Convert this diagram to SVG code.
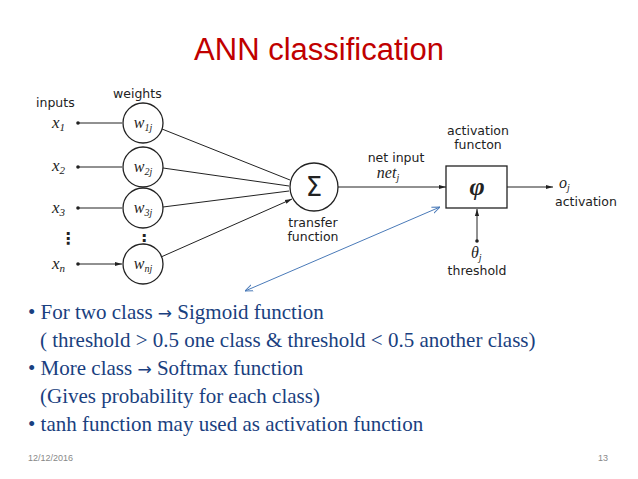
<svg xmlns="http://www.w3.org/2000/svg" width="638" height="479" viewBox="0 0 638 479">
<style>
.s{font-family:"DejaVu Sans",sans-serif;font-size:12.5px;fill:#222}
.m{font-family:"Liberation Serif",serif;font-style:italic;fill:#222}
.b{font-family:"Liberation Serif",serif;font-size:21px;fill:#1a3f80}
.n{fill:#fff;stroke:#222;stroke-width:1.3}
.l{stroke:#222;stroke-width:1;fill:none}
</style>
<defs>
<marker id="a" viewBox="0 0 10 10" refX="10" refY="5" markerWidth="7" markerHeight="7" orient="auto"><path d="M0,2 L10,5 L0,8z" fill="#222"/></marker>
<marker id="bl" viewBox="0 0 10 10" refX="10" refY="5" markerWidth="8" markerHeight="8" orient="auto-start-reverse"><path d="M0,1 L10,5 L0,9" fill="none" stroke="#4a7ab8" stroke-width="1.2"/></marker>
</defs>
<rect width="638" height="479" fill="#fff"/>
<text x="319" y="60" text-anchor="middle" font-family="Liberation Sans,sans-serif" font-size="31" fill="#c00000">ANN classification</text>
<g id="connectors">
<path class="l" marker-end="url(#a)" d="M78,123H122M78,167H122M78,208H122M78,264H122"/>
<circle cx="78" cy="123" r="1.8" fill="#222"/><circle cx="78" cy="167" r="1.8" fill="#222"/><circle cx="78" cy="208" r="1.8" fill="#222"/><circle cx="78" cy="264" r="1.8" fill="#222"/>
<path class="l" marker-end="url(#a)" d="M162,129L290,180M163,168L289,186M163,207L289,191M161,257L292,199"/>
<path class="l" marker-end="url(#a)" d="M337,187H446"/>
<path class="l" marker-end="url(#a)" d="M507,187H553"/>
<path class="l" marker-end="url(#a)" d="M477,241V209"/>
<circle cx="477" cy="241" r="1.8" fill="#222"/>
<path d="M245,291L440,207" stroke="#4a7ab8" stroke-width="1" marker-start="url(#bl)" marker-end="url(#bl)"/>
</g>
<g id="inputs">
<text class="s" x="36" y="107">inputs</text>
<text class="m" x="52" y="128" font-size="17">x<tspan font-size="11" dy="3">1</tspan></text>
<text class="m" x="52" y="171" font-size="17">x<tspan font-size="11" dy="3">2</tspan></text>
<text class="m" x="52" y="213" font-size="17">x<tspan font-size="11" dy="3">3</tspan></text>
<text class="m" x="52" y="269" font-size="17">x<tspan font-size="11" dy="3">n</tspan></text>
<text x="60" y="244" font-family="DejaVu Sans,sans-serif" font-size="16" font-weight="bold" fill="#222">⋮</text>
</g>
<g id="weights">
<text class="s" x="113" y="98">weights</text>
<circle class="n" cx="143" cy="123" r="20"/><text class="m" x="143" y="128" font-size="16" text-anchor="middle">w<tspan font-size="10" dy="3">1j</tspan></text>
<circle class="n" cx="143" cy="167" r="20"/><text class="m" x="143" y="172" font-size="16" text-anchor="middle">w<tspan font-size="10" dy="3">2j</tspan></text>
<circle class="n" cx="143" cy="208" r="20"/><text class="m" x="143" y="213" font-size="16" text-anchor="middle">w<tspan font-size="10" dy="3">3j</tspan></text>
<text x="136" y="246" font-family="DejaVu Sans,sans-serif" font-size="16" font-weight="bold" fill="#222">⋮</text>
<circle class="n" cx="143" cy="264" r="20"/><text class="m" x="143" y="269" font-size="16" text-anchor="middle">w<tspan font-size="10" dy="3">nj</tspan></text>
</g>
<g id="sum">
<circle class="n" cx="314" cy="187" r="24"/>
<text x="314" y="196" text-anchor="middle" font-family="DejaVu Sans,sans-serif" font-size="26" fill="#222">Σ</text>
<text class="s" x="313" y="227" text-anchor="middle">transfer</text>
<text class="s" x="313" y="241" text-anchor="middle">function</text>
</g>
<g id="netinput">
<text class="s" x="396" y="162" text-anchor="middle">net input</text>
<text class="m" x="388" y="178" font-size="16" text-anchor="middle">net<tspan font-size="10" dy="3">j</tspan></text>
</g>
<g id="activation">
<rect class="n" x="446" y="166" width="61" height="42"/>
<text class="m" x="477" y="195" font-size="26" font-weight="bold" text-anchor="middle">φ</text>
<text class="s" x="478" y="135" text-anchor="middle">activation</text>
<text class="s" x="478" y="149" text-anchor="middle">functon</text>
<text class="m" x="559" y="188" font-size="16">o<tspan font-size="10" dy="3">j</tspan></text>
<text class="s" x="555" y="206">activation</text>
</g>
<g id="threshold">
<text class="m" x="471" y="258" font-size="16">θ<tspan font-size="10" dy="3">j</tspan></text>
<text class="s" x="477" y="275" text-anchor="middle">threshold</text>
</g>
<g id="bullets">
<text class="b" x="28" y="319">•  For two class  <tspan font-family="DejaVu Sans,sans-serif" font-size="17">→</tspan> Sigmoid function</text>
<text class="b" x="40" y="347">( threshold &gt; 0.5 one class &amp; threshold &lt; 0.5 another class)</text>
<text class="b" x="28" y="375">•  More class <tspan font-family="DejaVu Sans,sans-serif" font-size="17">→</tspan> Softmax function</text>
<text class="b" x="40" y="403">(Gives probability for each class)</text>
<text class="b" x="28" y="431">•  tanh function may used as activation function</text>
</g>
<text x="28" y="461" font-family="Liberation Sans,sans-serif" font-size="9" fill="#888">12/12/2016</text>
<text x="598" y="461" font-family="Liberation Sans,sans-serif" font-size="9" fill="#888">13</text>
</svg>
